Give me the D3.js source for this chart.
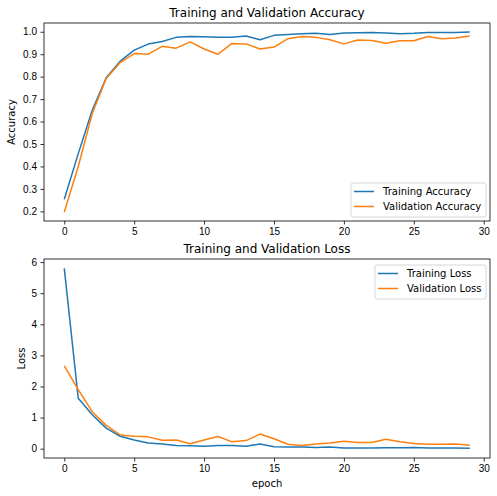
<!DOCTYPE html>
<html>
<head>
<meta charset="utf-8">
<script src="https://cdn.jsdelivr.net/npm/d3@7"></script>
<style>
  body { margin: 0; background: #fff; }
  svg { font-family: "DejaVu Sans", sans-serif; }
</style>
</head>
<body>
<div id="chart"></div>
<script>
// epochs 0..29
const epochs = d3.range(30);

const trainAcc = [0.254, 0.457, 0.65, 0.795, 0.869, 0.918, 0.945, 0.957, 0.975, 0.979,
  0.978, 0.975, 0.976, 0.981, 0.964, 0.984, 0.988, 0.991, 0.993, 0.988,
  0.994, 0.996, 0.997, 0.994, 0.991, 0.993, 0.997, 0.997, 0.997, 0.999];
const valAcc = [0.197, 0.40, 0.636, 0.792, 0.863, 0.903, 0.900, 0.935, 0.927, 0.955,
  0.923, 0.900, 0.948, 0.946, 0.923, 0.932, 0.969, 0.979, 0.975, 0.964,
  0.946, 0.963, 0.961, 0.949, 0.960, 0.960, 0.979, 0.969, 0.972, 0.981];

const trainLoss = [5.80, 1.62, 1.09, 0.66, 0.40, 0.28, 0.18, 0.15, 0.10, 0.09,
  0.08, 0.10, 0.10, 0.08, 0.15, 0.06, 0.05, 0.05, 0.04, 0.05,
  0.02, 0.02, 0.02, 0.03, 0.03, 0.04, 0.02, 0.02, 0.02, 0.01];
const valLoss = [2.66, 1.90, 1.19, 0.75, 0.44, 0.40, 0.38, 0.27, 0.28, 0.16,
  0.28, 0.39, 0.22, 0.26, 0.47, 0.32, 0.14, 0.10, 0.15, 0.18,
  0.24, 0.20, 0.20, 0.30, 0.22, 0.17, 0.14, 0.14, 0.15, 0.11];

const xTicks = [0, 5, 10, 15, 20, 25, 30];
const accTicks = [0.2, 0.3, 0.4, 0.5, 0.6, 0.7, 0.8, 0.9, 1.0];
const lossTicks = [0, 1, 2, 3, 4, 5, 6];

const blue = "#1f77b4", orange = "#ff7f0e";

const svg = d3.select("#chart").append("svg")
  .attr("width", 497).attr("height", 496);

function panel(opts) {
  const left = 44, right = 490;
  const x = d3.scaleLinear().domain([-1.45, 30.45]).range([left, right]);
  const y = d3.scaleLinear().domain(opts.yDomain).range([opts.bottom, opts.top]);
  const g = svg.append("g");

  // x axis
  g.append("g")
    .attr("transform", `translate(0,${opts.bottom})`)
    .call(d3.axisBottom(x).tickValues(xTicks).tickSize(3.5).tickPadding(3.5).tickFormat(d3.format("d")))
    .call(a => a.select(".domain").remove())
    .selectAll("text").attr("font-size", 10).attr("fill", "#000");

  // y axis
  g.append("g")
    .attr("transform", `translate(${left},0)`)
    .call(d3.axisLeft(y).tickValues(opts.yTicks).tickSize(3.5).tickPadding(3.5).tickFormat(opts.fmt))
    .call(a => a.select(".domain").remove())
    .selectAll("text").attr("font-size", 10).attr("fill", "#000");

  g.selectAll(".tick line").attr("stroke", "#000").attr("stroke-width", 0.8);

  const line = d3.line().x((d, i) => x(epochs[i])).y(d => y(d));
  const clip = "clip" + opts.id;
  g.append("clipPath").attr("id", clip).append("rect")
    .attr("x", left).attr("y", opts.top).attr("width", right - left).attr("height", opts.bottom - opts.top);

  opts.series.forEach(s => {
    g.append("path").datum(s.values)
      .attr("clip-path", `url(#${clip})`)
      .attr("fill", "none").attr("stroke", s.color).attr("stroke-width", 1.5)
      .attr("stroke-linejoin", "round").attr("d", line);
  });

  // frame
  g.append("rect")
    .attr("x", left).attr("y", opts.top)
    .attr("width", right - left).attr("height", opts.bottom - opts.top)
    .attr("fill", "none").attr("stroke", "#000").attr("stroke-width", 0.8);

  // title
  g.append("text")
    .attr("x", (left + right) / 2).attr("y", opts.top - 6)
    .attr("text-anchor", "middle").attr("font-size", 12)
    .text(opts.title);

  // y label
  g.append("text")
    .attr("transform", `translate(${opts.ylabelX},${(opts.top + opts.bottom) / 2}) rotate(-90)`)
    .attr("text-anchor", "middle").attr("font-size", 10)
    .text(opts.ylabel);

  if (opts.xlabel) {
    g.append("text")
      .attr("x", (left + right) / 2).attr("y", opts.bottom + 29)
      .attr("text-anchor", "middle").attr("font-size", 10)
      .text(opts.xlabel);
  }

  // legend
  const lg = opts.legend;
  const legG = g.append("g").attr("transform", `translate(${lg.x},${lg.y})`);
  legG.append("rect")
    .attr("width", lg.w).attr("height", 34).attr("rx", 2)
    .attr("fill", "#fff").attr("fill-opacity", 0.8)
    .attr("stroke", "#ccc").attr("stroke-width", 0.8);
  opts.series.forEach((s, i) => {
    const cy = 8.5 + i * 15;
    legG.append("line")
      .attr("x1", 3).attr("x2", 23).attr("y1", cy).attr("y2", cy)
      .attr("stroke", s.color).attr("stroke-width", 1.5);
    legG.append("text")
      .attr("x", 32).attr("y", cy + 3.5).attr("font-size", 10)
      .text(s.name);
  });
}

panel({
  id: "acc", top: 23, bottom: 221,
  yDomain: [0.157, 1.039], yTicks: accTicks, fmt: d3.format(".1f"),
  title: "Training and Validation Accuracy", ylabel: "Accuracy", ylabelX: 15,
  series: [
    { name: "Training Accuracy", values: trainAcc, color: blue },
    { name: "Validation Accuracy", values: valAcc, color: orange }
  ],
  legend: { x: 351, y: 183, w: 135 }
});

panel({
  id: "loss", top: 259, bottom: 458,
  yDomain: [-0.3, 6.1], yTicks: lossTicks, fmt: d3.format("d"),
  title: "Training and Validation Loss", ylabel: "Loss", ylabelX: 25, xlabel: "epoch",
  series: [
    { name: "Training Loss", values: trainLoss, color: blue },
    { name: "Validation Loss", values: valLoss, color: orange }
  ],
  legend: { x: 375, y: 265, w: 111 }
});
</script>
</body>
</html>
